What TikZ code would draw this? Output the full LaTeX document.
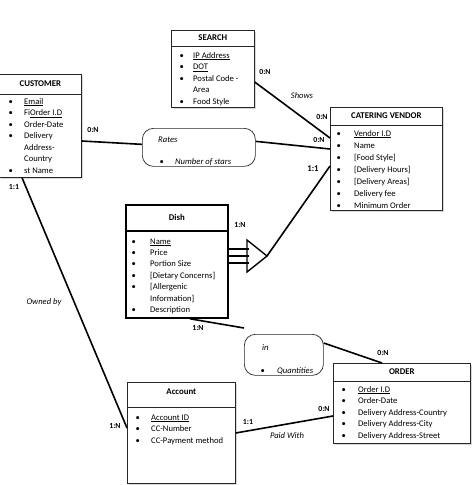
\documentclass[tikz,border=0pt]{standalone}
\usepackage{fontspec}
\setmainfont{Carlito}
\usetikzlibrary{shadows}
\newcommand\itemlist[2]{\begin{tabular}[t]{@{}p{#1}@{}l@{}}#2\end{tabular}}
\newcommand\bu{\textbullet}
\begin{document}
\begin{tikzpicture}[x=1pt,y=-1pt,
 ent/.style={draw=black!85, line width=0.7pt, fill=white, anchor=north west, inner sep=0pt,
   drop shadow={shadow xshift=1.2pt,shadow yshift=-1.2pt,opacity=0.3}},
 rel/.style={draw=black!85, line width=0.7pt, rounded corners=11pt, anchor=north west, inner sep=0pt, fill=white},
 conn/.style={line width=1.6pt},
 ttl/.style={font=\fontsize{8.8}{10}\selectfont\bfseries, inner sep=0pt},
 card/.style={font=\fontsize{7.8}{9}\selectfont\bfseries, inner sep=0pt},
 lbl/.style={font=\fontsize{8.6}{10}\selectfont\itshape, inner sep=0pt},
 lst/.style={anchor=base west, inner sep=0pt, font=\fontsize{8.6}{11.5}\selectfont},
]
\useasboundingbox (0,0) rectangle (474,485);

% ---------- entities ----------
\node[ent, minimum width=82pt, minimum height=103pt] (cust) at (-1,74) {};
\draw[draw=black!85, line width=0.7pt] ([yshift=-20pt]cust.north west) -- ([yshift=-20pt]cust.north east);
\node[ttl] (custt) at ([yshift=-10pt]cust.north) {CUSTOMER};
\node[lst] (custl) at (8.5,104) {\itemlist{15.5pt}{%
 \bu & \underline{Email}\\
 \bu & Fi\underline{Order I.D}\\
 \bu & Order-Date\\
 \bu & Delivery\\
     & Address-\\
     & Country\\
 \bu & st Name}};

\node[ent, minimum width=83pt, minimum height=77pt] (search) at (171,30) {};
\draw[draw=black!85, line width=0.7pt] ([yshift=-16pt]search.north west) -- ([yshift=-16pt]search.north east);
\node[ttl] (searcht) at ([yshift=-8pt]search.north) {SEARCH};
\node[lst] (searchl) at (179.5,58) {\itemlist{13.5pt}{%
 \bu & \underline{IP Address}\\
 \bu & \underline{DOT}\\
 \bu & Postal Code -\\
     & Area\\
 \bu & Food Style}};

\node[ent, minimum width=112pt, minimum height=103pt] (vendor) at (330,107) {};
\draw[draw=black!85, line width=0.7pt] ([yshift=-18pt]vendor.north west) -- ([yshift=-18pt]vendor.north east);
\node[ttl] (vendort) at ([yshift=-9pt]vendor.north) {CATERING VENDOR};
\node[lst, font=\fontsize{8.6}{12}\selectfont] (vendorl) at (336.5,136) {\itemlist{17.5pt}{%
 \bu & \underline{Vendor I.D}\\
 \bu & Name\\
 \bu & [Food Style]\\
 \bu & [Delivery Hours]\\
 \bu & [Delivery Areas]\\
 \bu & Delivery fee\\
 \bu & Minimum Order}};

\node[ent, line width=1.8pt, draw=black, minimum width=102pt, minimum height=113pt] (dish) at (125,204) {};
\draw[line width=1.8pt] ([yshift=-27pt]dish.north west) -- ([yshift=-27pt]dish.north east);
\node[ttl] (disht) at ([yshift=-13pt]dish.north) {Dish};
\node[lst, font=\fontsize{8.6}{11.4}\selectfont] (dishl) at (131.5,244) {\itemlist{18.5pt}{%
 \bu & \underline{Name}\\
 \bu & Price\\
 \bu & Portion Size\\
 \bu & [Dietary Concerns]\\
 \bu & [Allergenic\\
     & Information]\\
 \bu & Description}};

\node[ent, minimum width=108pt, minimum height=101pt] (account) at (127,382) {};
\draw[draw=black!85, line width=0.7pt] ([yshift=-25pt]account.north west) -- ([yshift=-25pt]account.north east);
\node[ttl] (accountt) at ([yshift=-10pt]account.north) {Account};
\node[lst] (accountl) at (135.5,420) {\itemlist{15.5pt}{%
 \bu & \underline{Account ID}\\
 \bu & CC-Number\\
 \bu & CC-Payment method}};

\node[ent, minimum width=137pt, minimum height=80pt] (order) at (333,363) {};
\draw[draw=black!85, line width=0.7pt] ([yshift=-18pt]order.north west) -- ([yshift=-18pt]order.north east);
\node[ttl] (ordert) at ([yshift=-9pt]order.north) {ORDER};
\node[lst] (orderl) at (341.5,392) {\itemlist{16.5pt}{%
 \bu & \underline{Order I.D}\\
 \bu & Order-Date\\
 \bu & Delivery Address-Country\\
 \bu & Delivery Address-City\\
 \bu & Delivery Address-Street}};

% ---------- relationships ----------
\node[rel, minimum width=113pt, minimum height=38pt] (rates) at (142,128) {};
\node[lbl, anchor=base west] (ratest) at (158,142) {Rates};
\node[lst] (ratesb) at (159.5,164) {\bu};
\node[lbl, anchor=base west] (ratesl) at (175,164) {Number of stars};

\node[rel, minimum width=79pt, minimum height=41pt] (inrel) at (244,334) {};
\node[lbl, anchor=base west] (int) at (262,350) {in};
\node[lst] (inb) at (260.5,373) {\bu};
\node[lbl, anchor=base west] (inl) at (277,373) {Quantities};

% ---------- connectors ----------
\draw[conn] ([yshift=-52pt]search.north east) -- ([yshift=-31pt]vendor.north west);
\draw[conn] ([yshift=-67pt]cust.north east) -- ([yshift=3pt]rates.west);
\draw[conn] ([yshift=6pt]rates.east) -- ([yshift=-42pt]vendor.north west);

\coordinate (apex) at (267,256);
\draw[line width=1.4pt] (247,240) -- (apex) -- (247,272) -- cycle;
\draw[line width=1.4pt] ([yshift=-45pt]dish.north east) -- ++(20,0);
\draw[line width=1.4pt] ([yshift=-52pt]dish.north east) -- ++(20,0);
\draw[line width=1.4pt] ([yshift=-59pt]dish.north east) -- ++(20,0);
\draw[conn] (apex) -- ([yshift=-59pt]vendor.north west);

\draw[conn] ([xshift=65pt]dish.south west) -- ([yshift=6pt]inrel.north west);
\draw[conn] ([yshift=-9pt]inrel.north east) -- ([xshift=49pt]order.north west);
\draw[conn] ([xshift=23pt]cust.south west) -- ([yshift=-46pt]account.north west);
\draw[conn] ([yshift=-51pt]account.north east) -- ([yshift=-53pt]order.north west);

% ---------- labels ----------
\node[card] (c1) at (265,72) {0:N};
\node[lbl] (shows) at (302,96) {Shows};
\node[card] (c2) at (322,117) {0:N};
\node[card] (c3) at (93,130) {0:N};
\node[card] (c4) at (319,140) {0:N};
\node[card, font=\fontsize{8.8}{10}\selectfont\bfseries] (c5) at (313,169) {1:1};
\node[card] (c6) at (14,187) {1:1};
\node[card] (c7) at (240,225) {1:N};
\node[card] (c8) at (198,328) {1:N};
\node[card] (c9) at (383,353) {0:N};
\node[card] (c10) at (115,426) {1:N};
\node[card] (c11) at (248,422) {1:1};
\node[card] (c12) at (324,409) {0:N};
\node[lbl] (owned) at (44,302) {Owned by};
\node[lbl] (paid) at (287,436) {Paid With};
\end{tikzpicture}
\end{document}
